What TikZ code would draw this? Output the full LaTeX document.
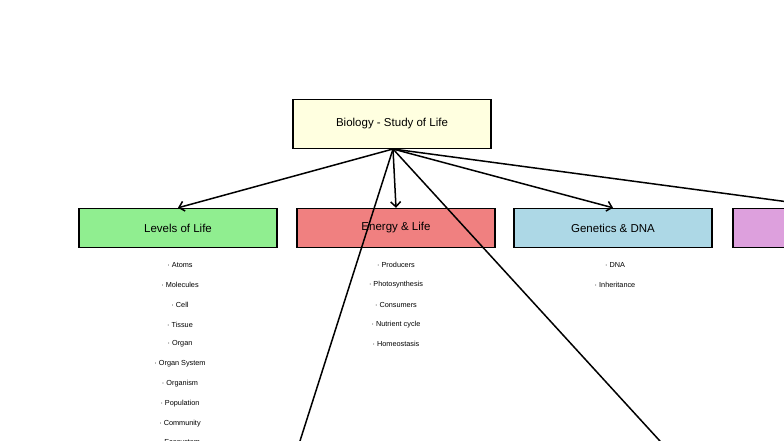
\documentclass[tikz,border=0pt]{standalone}
\usepackage{fontspec}
\setmainfont{Liberation Sans}
\usetikzlibrary{arrows.meta}
\begin{document}
\begin{tikzpicture}[x=1pt,y=-1pt,
 box/.style={draw=black,line width=1.4pt,minimum width=198pt,minimum height=39pt,inner sep=0pt,font=\fontsize{11.5}{13}\selectfont},
 item/.style={font=\fontsize{7.3}{8}\selectfont,inner sep=0pt},
 conn/.style={line width=1.5pt,-{Straight Barb[length=5pt,width=10pt]}}]
\clip (0,0) rectangle (784,441);
\useasboundingbox (0,0) rectangle (784,441);
\definecolor{cy}{HTML}{FFFFE0}
\definecolor{cg}{HTML}{90EE90}
\definecolor{cr}{HTML}{F08080}
\definecolor{cb}{HTML}{ADD8E6}
\definecolor{cp}{HTML}{DDA0DD}
\node[box,fill=cy,minimum height=49pt] (root) at (392,124) {Biology - Study of Life};
\node[box,fill=cg] (l1) at (178,228) {Levels of Life};
\node[box,fill=cr] (l2) at (396,228) {Energy \& Life};
\node[box,fill=cb] (l3) at (613,228) {Genetics \& DNA};
\node[box,fill=cp] (l4) at (832,228) {};
\coordinate (r) at (393,149);
\coordinate (f1) at (278,510);
\coordinate (f2) at (723,510);
\foreach \t [count=\i] in {Atoms,Molecules,Cell,Tissue,Organ,Organ System,Organism,Population,Community,Ecosystem}
  \node[item] (a\i) at (180,265+19.8*\i-19.8) {· \t};
\foreach \t [count=\i] in {Producers,Photosynthesis,Consumers,Nutrient cycle,Homeostasis}
  \node[item] (b\i) at (396,265+19.8*\i-19.8) {· \t};
\foreach \t [count=\i] in {DNA,Inheritance}
  \node[item] (c\i) at (615,265+19.8*\i-19.8) {· \t};
\draw[conn] (r) -- (l1.north);
\draw[conn] (r) -- (l2.north);
\draw[conn] (r) -- (l3.north);
\draw[conn] (r) -- (l4.north);
\draw[line width=1.5pt] (r) -- (f1);
\draw[line width=1.5pt] (r) -- (f2);
\end{tikzpicture}
\end{document}
